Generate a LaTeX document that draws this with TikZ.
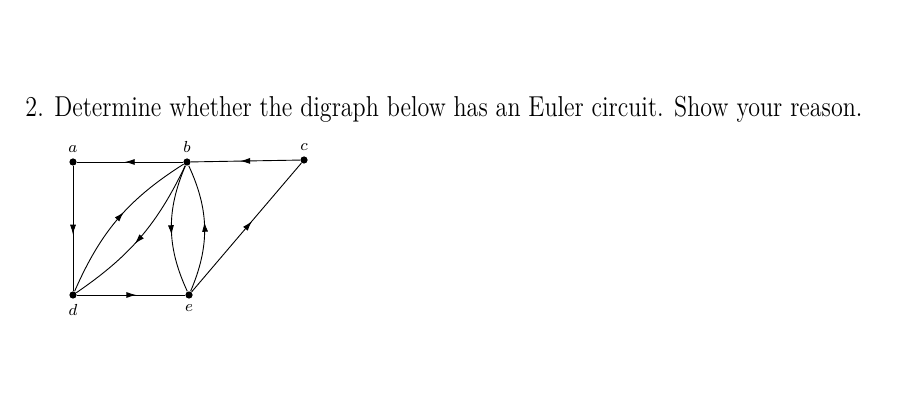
\documentclass[tikz,border=0pt]{standalone}
\usepackage{amsmath}
\usepackage{graphicx}
\usepackage{tikz}
\usetikzlibrary{
    positioning,
    arrows.meta,
    decorations.markings
}

\tikzset{
    vtx/.style={circle, fill=black, inner sep=0pt, minimum size=3.6pt},
    vlabel/.style={font=\footnotesize},
    midarrow/.style={postaction={decorate, decoration={markings,
        mark=at position #1 with {\arrow{Latex[length=5pt,width=3pt]}}}}},
    midarrow/.default=0.55
}

\begin{document}
\begin{tikzpicture}[x=0.5pt, y=-0.5pt, line width=0.45pt]
            \useasboundingbox (0,0) rectangle (897,410);

            % question text
            \node[anchor=base west, inner sep=0pt] (question) at (25,117)
                {\resizebox{418.5pt}{\height}{\Large 2. Determine whether the digraph below has an Euler circuit. Show your reason.}};

            % vertices
            \node[vtx, label={[vlabel, yshift=-1pt]above:$a$}] (a) at (73,162) {};
            \node[vtx, label={[vlabel, yshift=-1pt]above:$b$}] (b) at (187,162) {};
            \node[vtx, label={[vlabel, yshift=-1pt]above:$c$}] (c) at (304,160) {};
            \node[vtx, label={[vlabel, yshift=1pt]below:$d$}] (d) at (73,295) {};
            \node[vtx, label={[vlabel, yshift=1pt]below:$e$}] (e) at (189,295) {};

            % edges
            \draw[midarrow] (b) -- (a);
            \draw[midarrow] (c) -- (b);
            \draw[midarrow] (a) -- (d);
            \draw[midarrow] (d) -- (e);
            \draw[midarrow] (e) -- (c);
            \draw[midarrow] (d) to[bend left=17] (b);
            \draw[midarrow] (b) to[bend left=15] (d);
            \draw[midarrow] (b) to[bend right=24] (e);
            \draw[midarrow] (e) to[bend right=24] (b);
        \end{tikzpicture}
\end{document}
